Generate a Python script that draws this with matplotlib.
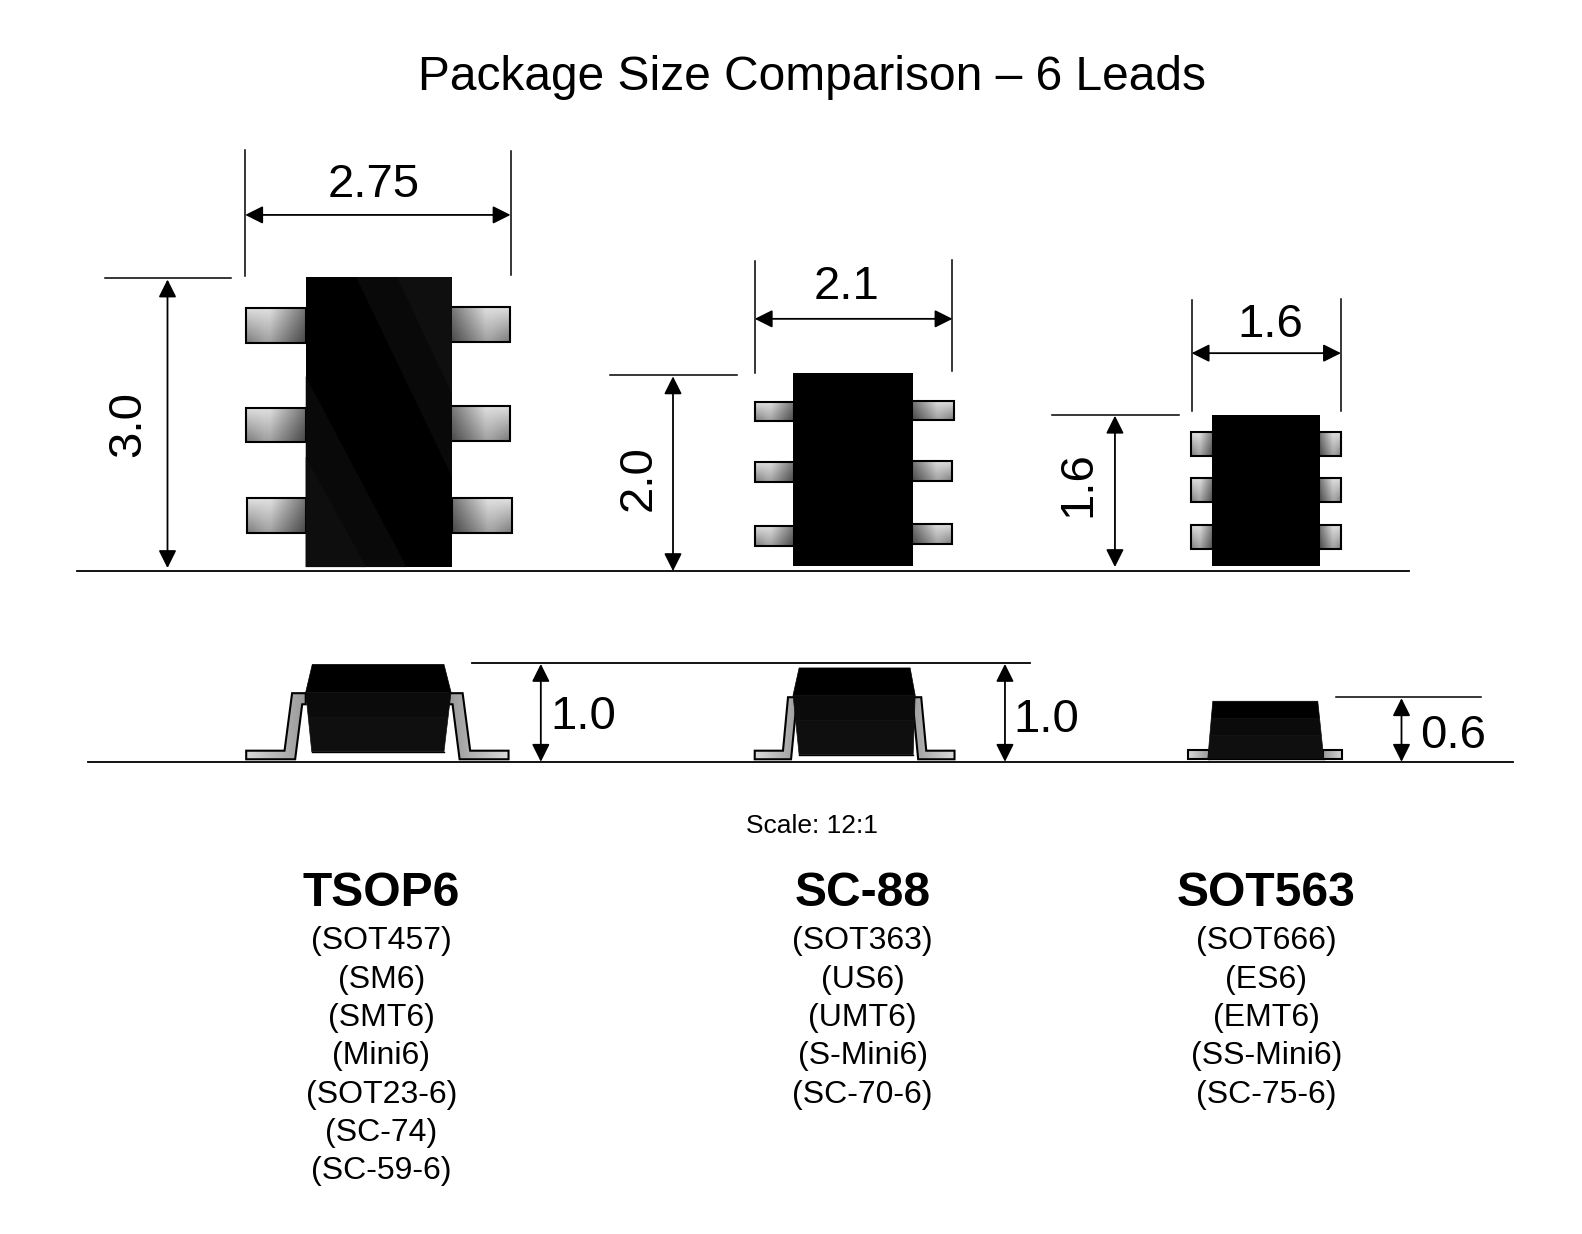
import numpy as np
import matplotlib
matplotlib.use("Agg")
import matplotlib.pyplot as plt
from matplotlib.patches import Polygon, Rectangle

plt.rcParams['font.family'] = ['Liberation Sans', 'DejaVu Sans']

# Package data
names = ["TSOP6", "SC-88", "SOT563"]
width_labels = ["2.75", "2.1", "1.6"]
length_labels = ["3.0", "2.0", "1.6"]
height_labels = ["1.0", "1.0", "0.6"]
aliases_tsop = ["(SOT457)", "(SM6)", "(SMT6)", "(Mini6)", "(SOT23-6)", "(SC-74)", "(SC-59-6)"]
aliases_sc88 = ["(SOT363)", "(US6)", "(UMT6)", "(S-Mini6)", "(SC-70-6)"]
aliases_sot = ["(SOT666)", "(ES6)", "(EMT6)", "(SS-Mini6)", "(SC-75-6)"]
title = "Package Size Comparison \u2013 6 Leads"
scale_note = "Scale: 12:1"

fig = plt.figure(figsize=(15.82, 12.34), dpi=100)
ax = fig.add_axes([0, 0, 1, 1])
ax.axis("off")


def lead_shade(flip):
    # light top corner, darker to the body and bottom
    xx, yy = np.meshgrid(np.linspace(0, 1, 60), np.linspace(0, 1, 30))
    g = 0.88 - 0.42 * np.clip((xx - 0.4) / 0.6, 0, 1) - 0.3 * yy * (1 - 0.4 * xx)
    g = g - 0.1 * np.clip((0.3 - xx) / 0.3, 0, 1) * yy
    return g[:, ::-1] if flip else g


def top_lead(x0, x1, y0, y1, flip=False):
    ax.imshow(lead_shade(flip), extent=(x0, x1, y1, y0), cmap="gray", vmin=0, vmax=1,
              aspect="auto", zorder=2, interpolation="bilinear")
    ax.add_patch(Rectangle((x0, y0), x1 - x0, y1 - y0, fc="none", ec="black", lw=1.5, zorder=3))


def side_lead(verts, flip=False):
    verts = np.array(verts, dtype=float)
    im = ax.imshow(np.linspace(0.85, 0.6, 60).reshape(1, -1)[:, ::-1 if flip else 1],
                   extent=(verts[:, 0].min(), verts[:, 0].max(), verts[:, 1].max(), verts[:, 1].min()),
                   cmap="gray", vmin=0, vmax=1, aspect="auto", zorder=2)
    edge = Polygon(verts, closed=True, fc="none", ec="black", lw=1.5, zorder=3)
    ax.add_patch(edge)
    im.set_clip_path(edge)


def side_body(top, mid, bottom, y_top, y_mid, y_low, y_bot):
    # top=(x0,x1) etc., three flat shaded bands
    def at(y):
        t = (y - y_mid) / (y_bot - y_mid)
        return mid[0] + (bottom[0] - mid[0]) * t, mid[1] + (bottom[1] - mid[1]) * t
    lo = at(y_low)
    ax.add_patch(Polygon([(top[0], y_top), (top[1], y_top), (mid[1], y_mid), (mid[0], y_mid)],
                         fc="black", ec="black", lw=0.5, zorder=4))
    ax.add_patch(Polygon([(mid[0], y_mid), (mid[1], y_mid), (lo[1], y_low), (lo[0], y_low)],
                         fc="#0b0b0b", ec="#0b0b0b", lw=0.5, zorder=4))
    ax.add_patch(Polygon([(lo[0], y_low), (lo[1], y_low), (bottom[1], y_bot), (bottom[0], y_bot)],
                         fc="#0f0f0f", ec="#0f0f0f", lw=0.5, zorder=4))
    ax.plot([bottom[0], bottom[1]], [y_bot, y_bot], color="black", lw=1, zorder=5)


def dim_arrow(x0, y0, x1, y1):
    ax.annotate("", xy=(x1, y1), xytext=(x0, y0),
                arrowprops=dict(arrowstyle="<|-|>,head_length=0.4,head_width=0.2", mutation_scale=27,
                                color="black", lw=1.3, shrinkA=0, shrinkB=0), zorder=6)


def h_dim(x0, x1, y, ext0, ext1, label, lx, ly):
    ax.plot([x0, x0], ext0, color="black", lw=1.1)
    ax.plot([x1, x1], ext1, color="black", lw=1.1)
    dim_arrow(x0, y, x1, y)
    ax.text(lx, ly, label, fontsize=34, ha="center", va="center")


# Top views
ax.add_patch(Rectangle((303, 275), 145, 287, fc="black", ec="none", zorder=4))
ax.add_patch(Polygon([(353, 275), (448, 275), (448, 473)], fc="#090909", ec="none", zorder=4))
ax.add_patch(Polygon([(393, 275), (448, 275), (448, 390)], fc="#0f0f0f", ec="none", zorder=4))
ax.add_patch(Polygon([(303, 373), (403, 562), (303, 562)], fc="#090909", ec="none", zorder=4))
ax.add_patch(Polygon([(303, 453), (363, 562), (303, 562)], fc="#0e0e0e", ec="none", zorder=4))
for x0, x1, y0, y1 in [(244, 303, 305, 340), (244, 303, 404, 438), (245, 303, 494, 528)]:
    top_lead(x0, x1, y0, y1)
for x0, x1, y0, y1 in [(446, 505, 304, 339), (446, 505, 402, 437), (448, 507, 494, 528)]:
    top_lead(x0, x1, y0, y1, flip=True)

ax.add_patch(Rectangle((786, 370), 119, 191, fc="black", ec="none", zorder=4))
for x0, x1, y0, y1 in [(748, 787, 398, 417), (748, 787, 458, 478), (748, 787, 521, 541)]:
    top_lead(x0, x1, y0, y1)
for x0, x1, y0, y1 in [(904, 945, 397, 416), (904, 944, 457, 477), (904, 944, 519, 539)]:
    top_lead(x0, x1, y0, y1, flip=True)

ax.add_patch(Rectangle((1201, 411), 107, 150, fc="black", ec="none", zorder=4))
for x0, x1, y0, y1 in [(1180, 1202, 428, 452), (1180, 1202, 474, 498), (1180, 1202, 520, 544)]:
    top_lead(x0, x1, y0, y1)
for x0, x1, y0, y1 in [(1307, 1329, 428, 452), (1307, 1329, 474, 498), (1307, 1329, 520, 544)]:
    top_lead(x0, x1, y0, y1, flip=True)

# Baselines
ax.plot([76, 1396], [566, 566], color="black", lw=1.3)
ax.plot([87, 1500], [755, 755], color="black", lw=1.3)

# Width dimensions
h_dim(243, 506, 213, (149, 274), (150, 273), width_labels[0], 370, 183)
h_dim(748, 944, 316, (259, 370), (258, 368), width_labels[1], 839, 284)
h_dim(1181, 1329, 350, (297, 407), (296, 407), width_labels[2], 1259, 322)

# Length dimensions
for xa, xb, y, xarrow, ybot, label, lx, ly in [
    (104, 229, 276, 166, 563, length_labels[0], 127, 420),
    (605, 730, 372, 667, 566, length_labels[1], 633, 474),
    (1043, 1168, 411, 1105, 562, length_labels[2], 1069, 480),
]:
    ax.plot([xa, xb], [y, y], color="black", lw=1.1)
    dim_arrow(xarrow, y + 1, xarrow, ybot)
    ax.text(lx, ly, label, fontsize=34, rotation=90, ha="center", va="center")

# Side views
tsop_left = [(244, 744), (282, 744), (289.5, 687), (303, 687), (303, 698), (299.5, 698), (292.5, 752.5), (244, 752.5)]
side_lead(tsop_left)
side_lead([(748 - x, y) for x, y in tsop_left], flip=True)
side_body((309.5, 440), (303, 447), (309, 440), 658.5, 686, 711, 745)

sc88_left = [(748, 744), (776, 744), (781, 691), (793, 691), (793, 701), (789, 701), (784, 752.5), (748, 752.5)]
side_lead(sc88_left)
side_lead([(1694 - x, y) for x, y in sc88_left], flip=True)
side_body((792, 902), (786, 907), (792, 905), 662, 689, 714, 748)

side_lead([(1177, 743), (1198, 743), (1198, 752.5), (1177, 752.5)])
side_lead([(1311, 743), (1330, 743), (1330, 752.5), (1311, 752.5)], flip=True)
side_body((1202, 1306), (1200.5, 1307.8), (1197, 1312), 695, 712, 729, 752.5)

# Height dimensions
ax.plot([468, 1021], [657, 657], color="black", lw=1.3)
ax.plot([1324, 1468], [691, 691], color="black", lw=1.1)
for xarrow, ytop, label, lx, ly in [
    (536, 658, height_labels[0], 578, 711),
    (996, 658, height_labels[1], 1037, 714),
    (1389, 692, height_labels[2], 1440, 729),
]:
    dim_arrow(xarrow, ytop, xarrow, 755)
    ax.text(lx, ly, label, fontsize=34, ha="center", va="center")

# Text
ax.text(805, 77, title, fontsize=34.5, ha="center", va="center")
ax.text(805, 818.5, scale_note, fontsize=19, ha="center", va="center")
for name, als, cx in zip(names, [aliases_tsop, aliases_sc88, aliases_sot], [378, 855, 1255]):
    ax.text(cx, 886, name, fontsize=34.6, fontweight="bold", ha="center", va="center")
    for i, a in enumerate(als):
        ax.text(cx, 933 + 38 * i, a, fontsize=23, ha="center", va="center")

ax.set_xlim(0, 1582 / 1.009)
ax.set_ylim(1234 / 1.009, 0)

fig.savefig("out.png", dpi=100)
